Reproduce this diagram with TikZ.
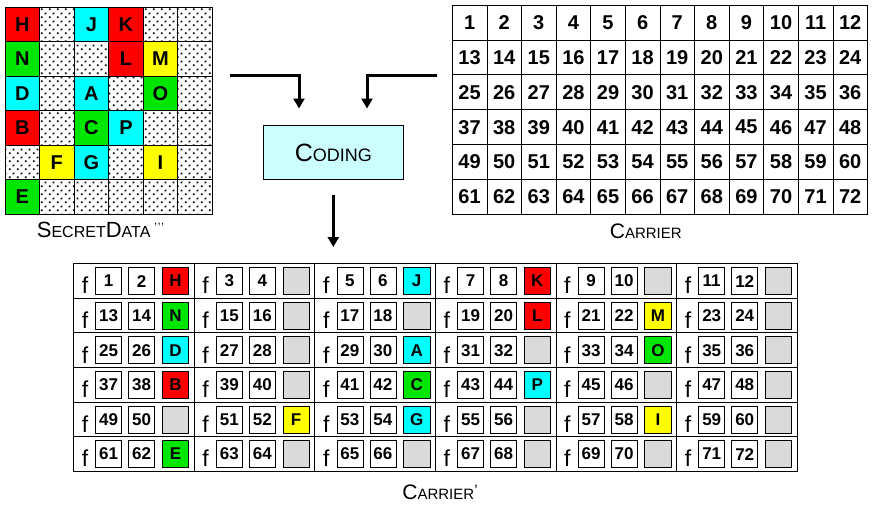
\documentclass[tikz,border=0pt]{standalone}
\usepackage{fontspec}
\setmainfont{Liberation Sans}
\usetikzlibrary{arrows.meta,patterns.meta}

\definecolor{cred}{RGB}{255,0,0}
\definecolor{cgreen}{RGB}{0,230,0}
\definecolor{ccyan}{RGB}{0,255,255}
\definecolor{cyel}{RGB}{255,255,0}
\definecolor{cgray}{RGB}{218,218,218}
\definecolor{clight}{RGB}{204,255,255}

\tikzdeclarepattern{
  name=sdots,
  type=uncolored,
  bounding box={(0pt,0pt) and (8pt,8pt)},
  tile size={(8pt,8pt)},
  code={
    \fill (1pt,1pt) rectangle (2.9pt,2.9pt);
    \fill (5pt,5pt) rectangle (6.9pt,6.9pt);
  }
}

% letter positions: row/col/letter/colour
\foreach \r/\c/\l/\k in {0/0/H/cred,0/2/J/ccyan,0/3/K/cred,
  1/0/N/cgreen,1/3/L/cred,1/4/M/cyel,
  2/0/D/ccyan,2/2/A/ccyan,2/4/O/cgreen,
  3/0/B/cred,3/2/C/cgreen,3/3/P/ccyan,
  4/1/F/cyel,4/2/G/ccyan,4/4/I/cyel,
  5/0/E/cgreen}{%
  \expandafter\xdef\csname LT\r-\c\endcsname{\l}%
  \expandafter\xdef\csname LC\r-\c\endcsname{\k}%
}

\tikzset{
  scell/.style={draw, line width=0.8pt, minimum width=34.55pt, minimum height=34.5pt,
    inner sep=0pt, outer sep=0pt, font=\fontsize{20}{20}\selectfont\bfseries},
  ccell/.style={draw, line width=0.8pt, minimum width=34.6pt, minimum height=34.9pt,
    inner sep=0pt, outer sep=0pt, font=\fontsize{20}{20}\selectfont\bfseries},
  bcell/.style={draw, line width=0.8pt, minimum width=120.6pt, minimum height=34.6pt,
    inner sep=0pt, outer sep=0pt},
  nbox/.style={draw, line width=0.7pt, minimum width=26pt, minimum height=27pt,
    inner sep=0pt, font=\fontsize{17}{17}\selectfont\bfseries},
  ftext/.style={anchor=base, inner sep=0pt, font=\fontsize{23}{23}\selectfont},
  arr/.style={line width=3pt, -{Triangle[width=11pt,length=10pt]}},
  codebox/.style={draw, line width=0.8pt, fill=clight, minimum width=140pt,
    minimum height=53.6pt, inner sep=0pt},
  lbl/.style={anchor=base, inner sep=0pt}
}

\begin{document}
\begin{tikzpicture}[x=1pt,y=-1pt]
\useasboundingbox (0,0) rectangle (873,507);

% ---- secret data grid ----
\foreach \r in {0,...,5}{\foreach \c in {0,...,5}{%
  \ifcsname LT\r-\c\endcsname
    \edef\mylet{\csname LT\r-\c\endcsname}%
    \edef\mycol{\csname LC\r-\c\endcsname}%
    \node[scell, fill=\mycol] (s\r\c) at ({5+34.55*(\c+0.5)},{7+34.5*(\r+0.5)}) {\mylet};
  \else
    \node[scell, pattern=sdots, pattern color=black] (s\r\c) at ({5+34.55*(\c+0.5)},{7+34.5*(\r+0.5)}) {};
  \fi
}}
\node[lbl, anchor=base west] (lsec) at (36.7,237.5)
  {\fontsize{22}{22}\selectfont S\fontsize{16}{16}\selectfont ECRET\fontsize{22}{22}\selectfont D\fontsize{16}{16}\selectfont ATA\hspace{4pt}\raisebox{6pt}{\fontsize{12}{12}\selectfont ’\hspace{0.8pt}’\hspace{0.8pt}’}};

% ---- carrier grid ----
\foreach \r in {0,...,5}{\foreach \c in {0,...,11}{%
  \pgfmathtruncatemacro\n{12*\r+\c+1}%
  \node[ccell] (c\n) at ({452.3+34.6*(\c+0.5)},{5+34.9*(\r+0.5)}) {\n};
}}
\node[lbl] (lcar) at (645.8,238.5)
  {\fontsize{21}{21}\selectfont C\fontsize{15}{15}\selectfont ARRIER};

% ---- coding ----
\node[codebox] (coding) at (333.3,152.5)
  {\fontsize{25}{25}\selectfont C\fontsize{18}{18}\selectfont ODING};

\coordinate (a1s) at (230,75);
\coordinate (a1e) at (299,108.5);
\coordinate (a2s) at (436.7,75.5);
\coordinate (a2e) at (367,108.5);
\coordinate (a3s) at (333.3,195);
\coordinate (a3e) at (333.3,247);
\draw[arr] (a1s) -| (a1e);
\draw[arr] (a2s) -| (a2e);
\draw[arr] (a3s) -- (a3e);

% ---- carrier' grid ----
\foreach \r in {0,...,5}{\foreach \c in {0,...,5}{%
  \pgfmathsetmacro\L{73.5+120.6*\c}%
  \pgfmathsetmacro\T{263.5+34.6*\r}%
  \pgfmathtruncatemacro\na{12*\r+2*\c+1}%
  \pgfmathtruncatemacro\nb{12*\r+2*\c+2}%
  \node[bcell] (b\r\c) at ({\L+60.3},{\T+17.3}) {};
  \node[ftext] (f\r\c) at ({\L+11.5},{\T+30.3}) {f};
  \node[nbox] (na\r\c) at ({\L+35.2},{\T+17.6}) {\na};
  \node[nbox] (nb\r\c) at ({\L+68.2},{\T+17.6}) {\nb};
  \ifcsname LT\r-\c\endcsname
    \edef\mylet{\csname LT\r-\c\endcsname}%
    \edef\mycol{\csname LC\r-\c\endcsname}%
    \node[nbox, fill=\mycol, minimum width=26.5pt] (nc\r\c) at ({\L+102},{\T+17.6}) {\mylet};
  \else
    \node[nbox, fill=cgray, minimum width=26.5pt] (nc\r\c) at ({\L+102},{\T+17.6}) {};
  \fi
}}
\node[lbl] (lcar2) at (440,499.5)
  {\fontsize{21}{21}\selectfont C\fontsize{15}{15}\selectfont ARRIER\raisebox{4pt}{’}};
\end{tikzpicture}
\end{document}
